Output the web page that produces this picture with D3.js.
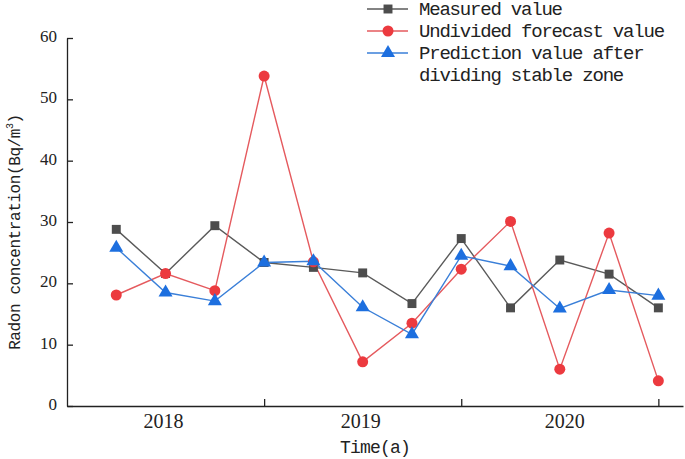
<!DOCTYPE html>
<html>
<head>
<meta charset="utf-8">
<script src="https://cdn.jsdelivr.net/npm/d3@7"></script>
<style>
  body { margin: 0; background: #fff; }
  svg { display: block; }
  .mono { font-family: "Liberation Mono", "DejaVu Sans Mono", monospace; }
  .serif { font-family: "Liberation Serif", "DejaVu Serif", serif; }
</style>
</head>
<body>
<div id="chart"></div>
<script>
// quarters 1..12 across 2018-2020
var quarters = [1, 2, 3, 4, 5, 6, 7, 8, 9, 10, 11, 12];
var measured = [28.8, 21.6, 29.4, 23.4, 22.6, 21.7, 16.7, 27.3, 16.0, 23.8, 21.5, 16.0];
var undivided = [18.1, 21.6, 18.8, 53.8, 23.5, 7.2, 13.5, 22.3, 30.1, 6.0, 28.2, 4.1];
var divided = [25.8, 18.5, 17.1, 23.4, 23.6, 16.1, 11.7, 24.5, 22.8, 15.9, 18.9, 18.0];

var yTicks = [0, 10, 20, 30, 40, 50, 60];
var xTicks = [4, 8, 12];
var yearLabels = ['2018', '2019', '2020'];
var yearPos = [1.96, 5.96, 10.1];

var seriesNames = ['Measured value', 'Undivided forecast value', 'Prediction value after'];

var W = 685, H = 459;
// careful: "top" is taken by window.top
var plotLeft = 67, plotRight = 683, plotTop = 38, plotBottom = 406;

var svg = d3.select('#chart').append('svg')
    .attr('width', W)
    .attr('height', H);

var x = d3.scaleLinear().domain([0, 12.5]).range([plotLeft, plotRight]);
var y = d3.scaleLinear().domain([0, 60]).range([plotBottom, plotTop]);

// axes, ticks pointing inward
var yAxis = d3.axisLeft(y).tickValues(yTicks).tickSizeInner(-6).tickSizeOuter(0).tickPadding(10);
var xAxis = d3.axisBottom(x).tickValues(xTicks).tickSizeInner(-7).tickSizeOuter(0).tickFormat('');

var gy = svg.append('g')
    .attr('transform', `translate(${plotLeft},0)`)
    .call(yAxis)
    .attr('font-family', '"Liberation Serif", serif')
    .attr('font-size', 17);
gy.select('.domain').attr('stroke', '#222').attr('stroke-width', 1.3);
gy.selectAll('.tick line').attr('stroke', '#222').attr('stroke-width', 1.3);
gy.selectAll('.tick text')
    .attr('fill', '#222')
    .attr('dy', '0.2em');

var gx = svg.append('g')
    .attr('transform', `translate(0,${plotBottom})`)
    .call(xAxis);
gx.select('.domain').attr('stroke', '#222').attr('stroke-width', 1.3);
gx.selectAll('.tick line').attr('stroke', '#222').attr('stroke-width', 1.3);

svg.selectAll('.year')
    .data(yearLabels)
    .enter()
    .append('text')
    .attr('class', 'serif')
    .attr('x', (d, i) => x(yearPos[i]))
    .attr('y', 428)
    .attr('text-anchor', 'middle')
    .attr('font-size', 20)
    .attr('fill', '#222')
    .text(d => d);

// axis titles
svg.append('text')
    .attr('class', 'mono')
    .attr('x', 375)
    .attr('y', 453)
    .attr('text-anchor', 'middle')
    .attr('font-size', 18)
    .attr('letter-spacing', -0.8)
    .attr('fill', '#222')
    .text('Time(a)');

var yt = svg.append('text')
    .attr('class', 'mono')
    .attr('transform', 'translate(20,232) rotate(-90)')
    .attr('text-anchor', 'middle')
    .attr('font-size', 16)
    .attr('letter-spacing', -0.4)
    .attr('fill', '#222');
yt.append('tspan').text('Radon concentration(Bq/m');
yt.append('tspan').attr('font-size', 10).attr('dy', -7).text('3');
yt.append('tspan').attr('dy', 7).text(')');

// series
var series = [
    {name: seriesNames[0], values: measured, color: '#4d4d4d', line: '#5a5a5a', shape: d3.symbolSquare, size: 80},
    {name: seriesNames[1], values: undivided, color: '#ec3a3f', line: '#e55a5e', shape: d3.symbolCircle, size: 95},
    {name: seriesNames[2], values: divided, color: '#1d6fdf', line: '#3a7fd8', shape: d3.symbolTriangle, size: 85}
];

var line = d3.line()
    .x((d, i) => x(quarters[i]))
    .y(d => y(d));

series.forEach(function(s) {
    svg.append('path')
        .datum(s.values)
        .attr('fill', 'none')
        .attr('stroke', s.line)
        .attr('stroke-width', 1.4)
        .attr('d', line);
});

series.forEach(function(s) {
    svg.selectAll(null)
        .data(s.values)
        .enter()
        .append('path')
        .attr('d', d3.symbol().type(s.shape).size(s.size))
        .attr('transform', (d, i) => `translate(${x(quarters[i])},${y(d)})`)
        .attr('fill', s.color);
});

// legend
var legendY = [9, 31, 53];
var legend = svg.append('g');
series.forEach(function(s, i) {
    legend.append('line')
        .attr('x1', 367).attr('x2', 408)
        .attr('y1', legendY[i]).attr('y2', legendY[i])
        .attr('stroke', s.line)
        .attr('stroke-width', 1.4);
    legend.append('path')
        .attr('d', d3.symbol().type(s.shape).size(s.size))
        .attr('transform', `translate(388,${legendY[i]})`)
        .attr('fill', s.color);
    legend.append('text')
        .attr('class', 'mono')
        .attr('x', 419)
        .attr('y', legendY[i] + 6)
        .attr('font-size', 19)
        .attr('letter-spacing', -1.2)
        .attr('fill', '#222')
        .text(s.name);
});
legend.append('text')
    .attr('class', 'mono')
    .attr('x', 419)
    .attr('y', 81)
    .attr('font-size', 19)
    .attr('letter-spacing', -1.2)
    .attr('fill', '#222')
    .text('dividing stable zone');
</script>
</body>
</html>
